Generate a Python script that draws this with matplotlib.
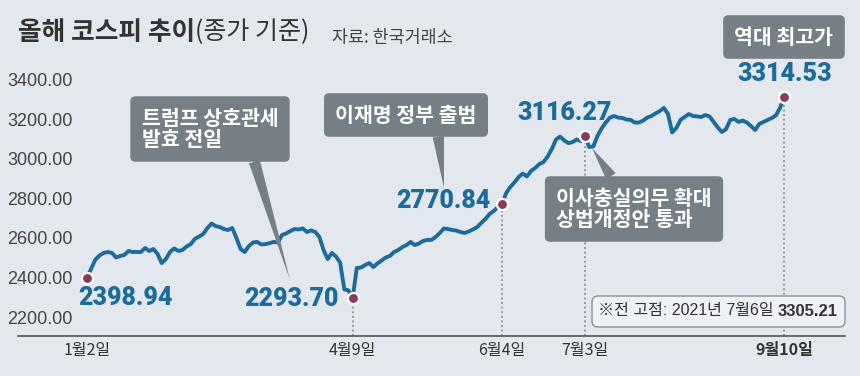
import numpy as np
import matplotlib.pyplot as plt
from matplotlib import font_manager
from matplotlib.patches import FancyBboxPatch
from matplotlib.transforms import IdentityTransform

# -----------------------------
# Data (KOSPI close, one value per trading day, 2025-01-02 .. 2025-09-10)
# -----------------------------
kospi_close = [
    2398.94, 2445, 2490, 2511, 2524, 2529, 2524, 2501, 2509, 2514,
    2534, 2529, 2529, 2529, 2549, 2534, 2544, 2519, 2473, 2493,
    2529, 2547, 2534, 2539, 2557, 2569, 2595, 2607, 2620, 2650,
    2673, 2660, 2655, 2645, 2640, 2650, 2600, 2544, 2529, 2559,
    2577, 2580, 2567, 2569, 2574, 2580, 2577, 2615, 2623, 2635,
    2645, 2643, 2648, 2630, 2638, 2630, 2605, 2539, 2493, 2524,
    2506, 2475, 2340, 2335, 2293.70, 2448, 2450, 2463, 2473, 2453,
    2471, 2486, 2501, 2509, 2529, 2539, 2554, 2564, 2580, 2564,
    2572, 2585, 2590, 2590, 2605, 2625, 2648, 2645, 2640, 2637,
    2630, 2625, 2633, 2643, 2655, 2676, 2696, 2721, 2736, 2757,
    2770.84, 2827, 2858, 2881, 2908, 2926, 2911, 2939, 2954, 2974,
    2984, 3012, 3050, 3098, 3113, 3093, 3080, 3085, 3098, 3090,
    3116.27, 3060, 3063, 3116, 3154, 3184, 3209, 3217, 3209, 3207,
    3199, 3197, 3184, 3184, 3194, 3209, 3217, 3230, 3242, 3258,
    3227, 3134, 3156, 3197, 3212, 3227, 3217, 3215, 3212, 3222,
    3215, 3187, 3159, 3136, 3151, 3197, 3202, 3187, 3194, 3184,
    3166, 3146, 3177, 3187, 3197, 3207, 3220, 3258, 3314.53,
]

event_days = [0, 64, 100, 120, 168]
event_dates = ["1월2일", "4월9일", "6월4일", "7월3일", "9월10일"]
event_values = [2398.94, 2293.70, 2770.84, 3116.27, 3314.53]

y_ticks = [2200, 2400, 2600, 2800, 3000, 3200, 3400]

title = "올해 코스피 추이"
subtitle = "(종가 기준)"
source = "자료: 한국거래소"
prev_high_text = "※전 고점: 2021년 7월6일"
prev_high_value = 3305.21

# -----------------------------
# Style
# -----------------------------
W, H = 860, 376
BG = "#e3e8ef"
BLUE = "#1d6b9b"
DOT = "#8b3a5c"
BOX = "#767e86"
TXT = "#333333"

names = {f.name for f in font_manager.fontManager.ttflist}
KR = "Noto Sans CJK KR"
NARROW = "Liberation Sans Narrow" if "Liberation Sans Narrow" in names else "Liberation Sans"
NUM = "Roboto"
plt.rcParams["font.family"] = [KR, "DejaVu Sans"]


def fp(x, y):
    """top-left pixel -> figure pixels"""
    return (x, H - y)


fig = plt.figure(figsize=(W / 100, H / 100), dpi=100)
fig.patch.set_facecolor(BG)

ax = fig.add_axes([18 / W, 40 / H, 827 / W, 336 / H])
ax.set_facecolor("none")
ax.set_xlim(-16.63, 182.65)
ax.set_ylim(2103.9, 3804)

days = np.arange(len(kospi_close))
ax.plot(days, kospi_close, color=BLUE, lw=2.8, solid_joinstyle="round", zorder=3)

y0 = ax.get_ylim()[0]
ax.vlines(event_days[1:], y0, event_values[1:], colors="#7a7f85",
          linestyles=(0, (1.2, 1.8)), lw=1.1, zorder=2)
ax.scatter(event_days, event_values, s=64, color=DOT, edgecolor="white",
           linewidth=1.6, zorder=5)

# value labels next to the dots (offsets in points)
offsets = [((28, -14.5), "center"), ((-10, -0.7), "right"), ((-8.5, 2.2), "right"),
           ((-15, 16.5), "center"), ((0, 16.5), "center")]
for d, v, (off, ha) in zip(event_days, event_values, offsets):
    ax.annotate(f"{v:.2f}", (d, v), xytext=off, textcoords="offset points",
                ha=ha, va="center", fontsize=18, fontweight="heavy",
                color=BLUE, family=NUM, zorder=6)

# axes
for s in ["top", "left", "right"]:
    ax.spines[s].set_visible(False)
ax.spines["bottom"].set_color("#555555")
ax.spines["bottom"].set_linewidth(1.2)

ax.set_xticks(event_days, event_dates)
ax.tick_params(axis="x", length=0, pad=4.5, labelsize=11.5, labelcolor=TXT)
ax.get_xticklabels()[-1].set_fontweight("bold")
ax.set_xticks([0], minor=True)
ax.tick_params(axis="x", which="minor", direction="in", length=9.5, width=1.1, color="#555555")

ax.set_yticks(y_ticks, [f"{v:.2f}" for v in y_ticks])
ax.tick_params(axis="y", length=0, pad=-39.6, labelsize=13, labelcolor="#444444")
for lbl in ax.get_yticklabels():
    lbl.set_family([NARROW, KR])

# title
t = fig.text(18 / W, 1 - 32 / H, title, fontsize=18.5, fontweight="bold", color=TXT, va="center")
fig.canvas.draw()
r = fig.canvas.get_renderer()
bb = t.get_window_extent(r)
fig.text(bb.x1 / W, 1 - 32 / H, subtitle, fontsize=18, color=TXT, va="center")
fig.text(332 / W, 1 - 38 / H, source, fontsize=12.5, color="#444444", va="center")

# callouts
box_kw = dict(boxstyle="round,pad=0.55,rounding_size=0.25", fc=BOX, ec="none")
callouts = [
    ("트럼프 상호관세\n발효 전일", (210, 129), (290, 280), (0.8, 0.0)),
    ("이재명 정부 출범", (406, 115), (444, 188), (0.72, 0.0)),
    ("이사충실의무 확대\n상법개정안 통과", (634, 209), (592, 148), (0.4, 1.0)),
]
for txt, c, tip, rel in callouts:
    ax.annotate(txt, xy=fp(*tip), xycoords="figure pixels", xytext=fp(*c),
                textcoords="figure pixels", ha="center", va="center",
                multialignment="left", linespacing=1.05, fontsize=14.8,
                fontweight="bold", color="white", bbox=box_kw, zorder=7,
                arrowprops=dict(arrowstyle="wedge,tail_width=0.55,shrink_factor=0.5",
                                fc=BOX, ec="none", relpos=rel, shrinkA=0, shrinkB=0))
fig.text(784 / W, 1 - 37 / H, "역대 최고가", ha="center", va="center", fontsize=14.8,
         fontweight="bold", color="white", bbox=box_kw)

# previous high note
fig.add_artist(FancyBboxPatch((592, H - 327), 253, 31, boxstyle="round,pad=0,rounding_size=6",
                              fc="#eef1f5", ec="#8a9097", lw=1, transform=IdentityTransform()))
nv = fig.text(838 / W, 1 - 311 / H, f"{prev_high_value:.2f}", ha="right", va="center",
              fontsize=12, fontweight="bold", color=TXT, family=[NARROW, KR])
fig.canvas.draw()
nb = nv.get_window_extent(fig.canvas.get_renderer())
fig.text((nb.x0 - 4) / W, 1 - 311 / H, prev_high_text, ha="right", va="center",
         fontsize=11.5, color=TXT, family=[NARROW, KR])

fig.savefig("out.png", dpi=100, facecolor=BG)
